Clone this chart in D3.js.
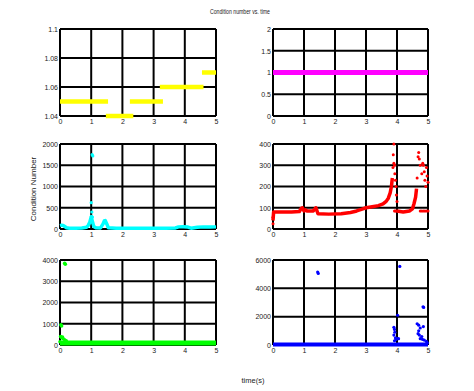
<!DOCTYPE html>
<html><head><meta charset="utf-8">
<script src="https://cdn.jsdelivr.net/npm/d3@7"></script>
<style>body{margin:0;background:#fff}text{font-family:"Liberation Sans",Arial,sans-serif;fill:#222}</style>
</head><body><svg id="c" width="474" height="391"></svg>
<script>
// ---- data ----
const xTicks = [0,1,2,3,4,5];
// panel 1 (yellow): step segments
const ySegStart = [0,1.47,2.24,3.2,4.55];
const ySegEnd   = [1.54,2.35,3.3,4.6,5];
const ySegVal   = [1.05,1.04,1.05,1.06,1.07];
const p1Ticks = [1.04,1.06,1.08,1.1];
const p1TickLabels = ["1.04","1.06","1.08","1.1"];
// panel 2 (magenta)
const mT = [0,5];
const mV = [1,1];
const p2Ticks = [0,0.5,1,1.5,2];
const p2TickLabels = ["0","0.5","1","1.5","2"];
// panel 3 (cyan)
const cT = [0,0.05,0.1,0.15,0.2,0.3,0.5,0.7,0.85,0.9,0.95,1.0,1.05,1.08,1.15,1.3,1.38,1.42,1.45,1.5,1.55,1.8,2.2,2.8,3.4,3.7,3.8,3.95,4.1,4.2,4.4,4.6,4.8,5.0];
const cV = [80,90,85,60,30,20,20,25,40,80,150,280,150,60,30,25,120,190,200,120,30,20,15,15,15,25,50,55,45,20,40,50,45,50];
const cDotT = [1.03,1.05,1.0,1.02,1.04,1.01];
const cDotV = [1750,1720,620,400,280,300];
const p3Ticks = [0,500,1000,1500,2000];
// panel 4 (red)
const rT = [0,0.02,0.3,0.6,0.85,0.9,0.95,1.0,1.05,1.1,1.3,1.38,1.42,1.45,1.8,2.2,2.5,2.7,2.9,3.0,3.2,3.4,3.55,3.65,3.72,3.78,3.82,3.85,null,4.0,4.2,4.4,4.5,4.55,4.6,4.63];
const rV = [40,80,80,80,82,95,100,85,90,85,85,100,85,72,70,72,78,85,95,100,105,110,118,130,145,170,200,240,null,85,80,85,95,120,150,190];
const rDotT = [0,0,3.87,3.9,3.88,3.9,3.92,3.93,3.95,3.97,3.98,4.0,3.92,3.95,3.98,4.65,4.68,4.7,4.72,4.75,4.8,4.83,4.85,4.88,4.9,4.93,4.95,4.97,5.0,4.75,4.8,4.85,4.9,4.95,5.0];
const rDotV = [25,55,290,400,350,310,300,260,230,200,160,130,85,85,85,240,340,360,330,300,260,310,300,270,230,200,290,250,220,85,85,85,85,85,85];
const p4Ticks = [0,100,200,300,400];
// panel 5 (green)
const gT = [0,0.1,0.5,1,2,3,4,5];
const gV = [100,100,95,95,95,95,95,95];
const gDotT = [0.15,0.17,0.05,0.03,0.02,0.05,0.1,0.15,0.2,0.0,0.08];
const gDotV = [3850,3800,900,950,400,350,300,250,200,150,380];
const p5Ticks = [0,1000,2000,3000,4000];
// panel 6 (blue)
const bT = [0,1,2,3,4,5];
const bV = [30,30,30,30,30,30];
const bDotT = [1.44,1.46,4.09,4.02,4.84,4.86,3.9,3.92,3.93,3.9,3.95,3.97,4.0,4.05,3.92,4.65,4.7,4.75,4.7,4.68,4.72,4.8,4.75,4.82,4.88,4.95,4.98,4.85];
const bDotV = [5150,5050,5550,2100,2700,2650,1250,1100,900,700,500,400,450,450,300,1500,1400,1200,1000,800,700,600,450,400,350,250,150,1300];
const p6Ticks = [0,2000,4000,6000];

const svg = d3.select("#c");
const cols = [[60,216],[273,428]];
const rows = [[29,116],[144,229],[260,345]];

function panel(col,row,ydom,yticks,ylabels){
  const x = d3.scaleLinear().domain([0,5]).range(cols[col]);
  const y = d3.scaleLinear().domain(ydom).range([rows[row][1],rows[row][0]]);
  const g = svg.append("g");
  g.selectAll(".gx").data(xTicks).join("line")
    .attr("x1",d=>x(d)).attr("x2",d=>x(d)).attr("y1",y.range()[0]).attr("y2",y.range()[1])
    .attr("stroke","#000").attr("stroke-width",2);
  g.selectAll(".gy").data(yticks).join("line")
    .attr("y1",d=>y(d)).attr("y2",d=>y(d)).attr("x1",x.range()[0]).attr("x2",x.range()[1])
    .attr("stroke","#000").attr("stroke-width",2);
  const ax = g.append("g").attr("transform",`translate(0,${y.range()[0]})`)
    .call(d3.axisBottom(x).tickValues(xTicks).tickSize(0).tickPadding(3).tickFormat(d3.format("d")));
  const ay = g.append("g").attr("transform",`translate(${x.range()[0]},0)`)
    .call(d3.axisLeft(y).tickValues(yticks).tickSize(0).tickPadding(2)
      .tickFormat((d,i)=>ylabels?ylabels[i]:String(d)));
  [ax,ay].forEach(a=>{a.select(".domain").remove();a.selectAll("text").attr("font-size","7px").style("fill","#222");});
  return {g,x,y};
}
function line(p,T,V,color,w){
  const pts = T.map((t,i)=>[t,V[i]]);
  p.g.append("path").datum(pts)
    .attr("d",d3.line().defined(d=>d[0]!==null&&d[1]!==null).x(d=>p.x(d[0])).y(d=>p.y(d[1])))
    .attr("fill","none").attr("stroke",color).attr("stroke-width",w).attr("stroke-linejoin","round");
}
function dots(p,T,V,color,r){
  p.g.selectAll(null).data(T.map((t,i)=>[t,V[i]])).join("circle")
    .attr("cx",d=>p.x(d[0])).attr("cy",d=>p.y(d[1])).attr("r",r).attr("fill",color);
}

const p1 = panel(0,0,[1.04,1.1],p1Ticks,p1TickLabels);
p1.g.selectAll(null).data(ySegVal).join("line")
  .attr("x1",(d,i)=>p1.x(ySegStart[i])).attr("x2",(d,i)=>p1.x(ySegEnd[i]))
  .attr("y1",d=>p1.y(d)).attr("y2",d=>p1.y(d))
  .attr("stroke","#ffff00").attr("stroke-width",4.5);

const p2 = panel(1,0,[0,2],p2Ticks,p2TickLabels);
line(p2,mT,mV,"#ff00ff",5);

const p3 = panel(0,1,[0,2000],p3Ticks);
line(p3,cT,cV,"#00ffff",3.5);
dots(p3,cDotT,cDotV,"#00ffff",1.6);

const p4 = panel(1,1,[0,400],p4Ticks);
line(p4,rT,rV,"#ff0000",3.5);
dots(p4,rDotT,rDotV,"#ff0000",1.5);

const p5 = panel(0,2,[0,4000],p5Ticks);
line(p5,gT,gV,"#00ff00",5);
dots(p5,gDotT,gDotV,"#00ff00",1.8);

const p6 = panel(1,2,[0,6000],p6Ticks);
line(p6,bT,bV,"#0000ff",4);
dots(p6,bDotT,bDotV,"#0000ff",1.6);

svg.append("text").attr("x",240).attr("y",14).attr("text-anchor","middle")
  .attr("font-size","6.5px").attr("textLength",60).attr("lengthAdjust","spacingAndGlyphs")
  .text("Condition number vs. time");
svg.append("text").attr("transform","translate(36,189) rotate(-90)").attr("text-anchor","middle")
  .attr("font-size","8px").text("Condition Number");
svg.append("text").attr("x",253).attr("y",383).attr("text-anchor","middle")
  .attr("font-size","7.5px").text("time(s)");
</script></body></html>
